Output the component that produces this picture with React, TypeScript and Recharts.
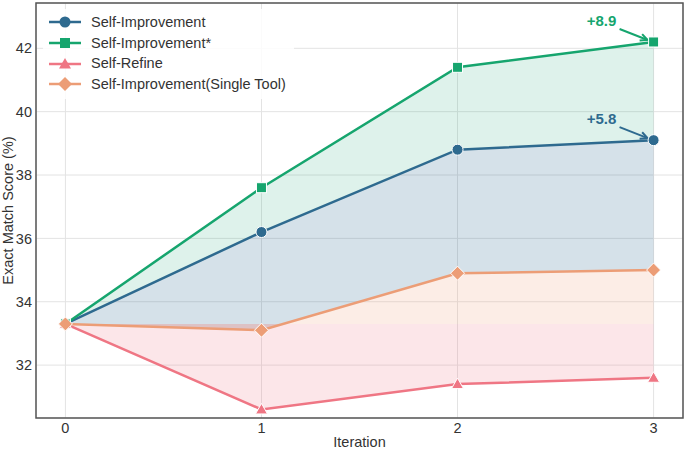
import { ComposedChart, Line, Area, XAxis, YAxis, CartesianGrid, Legend, ReferenceArea, ReferenceDot } from "recharts";

const iterations = [0, 1, 2, 3];
const selfImprovement = [33.3, 36.2, 38.8, 39.1];
const selfImprovementStar = [33.3, 37.6, 41.4, 42.2];
const selfRefine = [33.3, 30.6, 31.4, 31.6];
const singleTool = [33.3, 33.1, 34.9, 35.0];
const yTicks = [32, 34, 36, 38, 40, 42];
const xTicks = [0, 1, 2, 3];

const BASE = 33.3;
const FONT = "'Liberation Sans', Arial, sans-serif";

const series = [
	{ key: "si", name: "Self-Improvement", color: "#2e6a8f", shape: "circle", values: selfImprovement },
	{ key: "sis", name: "Self-Improvement*", color: "#16a56e", shape: "square", values: selfImprovementStar },
	{ key: "sr", name: "Self-Refine", color: "#ef7684", shape: "triangle", values: selfRefine },
	{ key: "st", name: "Self-Improvement(Single Tool)", color: "#ec9d76", shape: "diamond", values: singleTool },
];

const data = iterations.map((it, i) => {
	const row: { [k: string]: number } = { it };
	series.forEach((s) => (row[s.key] = s.values[i]));
	return row;
});

// shaded bands between neighbouring curves
const bands = [
	{ id: "g", lo: (d: any) => d.si, hi: (d: any) => d.sis, color: "#16a56e", op: 0.14 },
	{ id: "b", lo: (d: any) => d.st, hi: (d: any) => d.si, color: "#2e6a8f", op: 0.2 },
	{ id: "o", lo: () => BASE, hi: (d: any) => d.st, color: "#ec9d76", op: 0.18 },
	{ id: "r", lo: (d: any) => d.sr, hi: () => BASE, color: "#ef7684", op: 0.18 },
];

function Marker({ cx, cy, shape, color, stroke = "#fff" }: any) {
	if (cx == null || cy == null) return null;
	if (shape === "square") return <rect x={cx - 5} y={cy - 5} width={10} height={10} fill={color} stroke={stroke} strokeWidth={1} />;
	if (shape === "triangle")
		return <polygon points={`${cx},${cy - 6} ${cx + 6},${cy + 4.5} ${cx - 6},${cy + 4.5}`} fill={color} stroke={stroke} strokeWidth={1} />;
	if (shape === "diamond")
		return <polygon points={`${cx},${cy - 7} ${cx + 7},${cy} ${cx},${cy + 7} ${cx - 7},${cy}`} fill={color} stroke={stroke} strokeWidth={1} />;
	return <circle cx={cx} cy={cy} r={5.5} fill={color} stroke={stroke} strokeWidth={1} />;
}

function LegendBox() {
	return (
		<div style={{ background: "rgba(255,255,255,0.85)", padding: "3px 8px 4px 6px", fontFamily: FONT, fontSize: 14.5, color: "#333", lineHeight: "20.7px" }}>
			{series.map((s) => (
				<div key={s.key} style={{ display: "flex", alignItems: "center" }}>
					<svg width={32} height={14} style={{ marginRight: 10 }}>
						<line x1={0} y1={7} x2={32} y2={7} stroke={s.color} strokeWidth={2.5} />
						<Marker cx={16} cy={7} shape={s.shape} color={s.color} stroke="none" />
					</svg>
					<span>{s.name}</span>
				</div>
			))}
		</div>
	);
}

function YLabel({ viewBox }: any) {
	const cy = viewBox.y + viewBox.height / 2;
	const x = 13;
	return (
		<text x={x} y={cy} transform={`rotate(-90, ${x}, ${cy})`} textAnchor="middle" fill="#333" fontSize={14.5} fontFamily={FONT}>
			Exact Match Score (%)
		</text>
	);
}

function Gain({ cx, cy, color, text }: any) {
	const x1 = cx - 34;
	const y1 = cy - 13;
	const x2 = cx - 6;
	const y2 = cy - 2;
	const ang = Math.atan2(y2 - y1, x2 - x1);
	const h = 8;
	const w = 0.45;
	return (
		<g>
			<line x1={x1} y1={y1} x2={x2} y2={y2} stroke={color} strokeWidth={2} />
			<polyline
				points={`${x2 - h * Math.cos(ang - w)},${y2 - h * Math.sin(ang - w)} ${x2},${y2} ${x2 - h * Math.cos(ang + w)},${y2 - h * Math.sin(ang + w)}`}
				fill="none"
				stroke={color}
				strokeWidth={2}
			/>
			<text x={cx - 52} y={cy - 16} textAnchor="middle" fill={color} fontSize={15} fontWeight="bold" fontFamily={FONT}>
				{text}
			</text>
		</g>
	);
}

export default function App() {
	const last = iterations.length - 1;
	return (
		<div>
			<style>{`body{margin:0}`}</style>
			<ComposedChart width={685} height={449} data={data} margin={{ top: 3, right: 2, left: 0, bottom: 0 }}>
				<CartesianGrid stroke="#e3e3e3" strokeWidth={1} />
				<XAxis
					dataKey="it"
					type="number"
					domain={[-0.15, 3.15]}
					ticks={xTicks}
					allowDataOverflow
					axisLine={false}
					tickLine={false}
					tickSize={0}
					height={31}
					tick={{ fill: "#333", fontSize: 14.5, fontFamily: FONT }}
					tickMargin={5}
					label={{ value: "Iteration", position: "insideBottom", offset: 2, fill: "#333", fontSize: 14.5, fontFamily: FONT }}
				/>
				<YAxis
					type="number"
					domain={[30.33, 43.43]}
					ticks={yTicks}
					allowDataOverflow
					axisLine={false}
					tickLine={false}
					tickSize={0}
					width={36}
					tick={{ fill: "#333", fontSize: 14.5, fontFamily: FONT }}
					tickMargin={4}
					label={<YLabel />}
				/>
				{bands.map((b) => (
					<Area
						key={b.id}
						dataKey={(d: any) => [b.lo(d), b.hi(d)]}
						stroke="none"
						fill={b.color}
						fillOpacity={b.op}
						isAnimationActive={false}
						legendType="none"
						activeDot={false}
					/>
				))}
				<ReferenceArea x1={-0.15} x2={3.15} y1={30.33} y2={43.43} fill="none" stroke="#555" strokeWidth={1.5} ifOverflow="visible" />
				{series.map((s) => (
					<Line
						key={s.key}
						dataKey={s.key}
						name={s.name}
						stroke={s.color}
						strokeWidth={2.5}
						isAnimationActive={false}
						dot={(p: any) => <Marker key={`${s.key}-${p.index}`} cx={p.cx} cy={p.cy} shape={s.shape} color={s.color} />}
						activeDot={false}
					/>
				))}
				<ReferenceDot
					x={iterations[last]}
					y={selfImprovementStar[last]}
					ifOverflow="visible"
					shape={(p: any) => <Gain {...p} color="#16a56e" text={`+${(selfImprovementStar[last] - selfImprovementStar[0]).toFixed(1)}`} />}
				/>
				<ReferenceDot
					x={iterations[last]}
					y={selfImprovement[last]}
					ifOverflow="visible"
					shape={(p: any) => <Gain {...p} color="#2e6a8f" text={`+${(selfImprovement[last] - selfImprovement[0]).toFixed(1)}`} />}
				/>
				<Legend layout="vertical" align="center" verticalAlign="middle" content={() => <LegendBox />} wrapperStyle={{ top: 9, left: 43, width: "auto" }} />
			</ComposedChart>
		</div>
	);
}
